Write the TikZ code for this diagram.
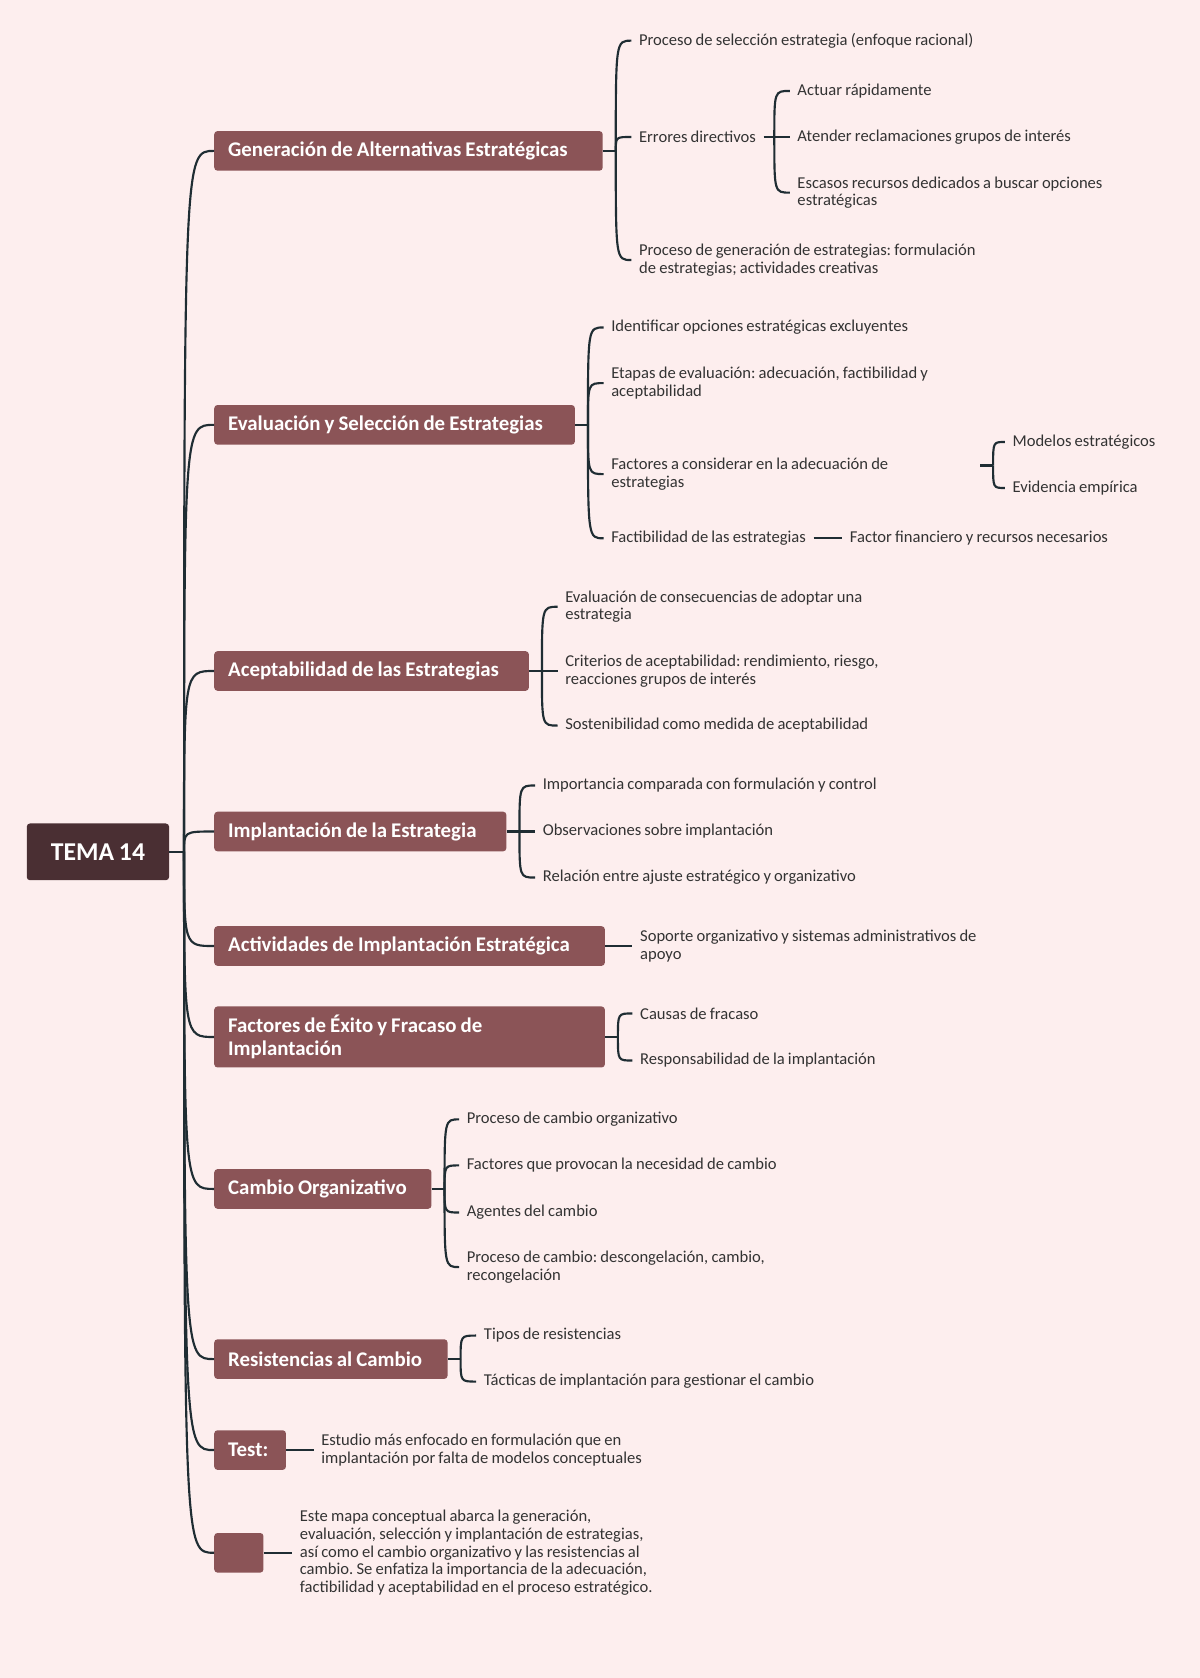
\documentclass[tikz,border=0pt]{standalone}
\usepackage{fontspec}
\setmainfont{Carlito}[WordSpace=0.85]
\frenchspacing
\definecolor{bg}{HTML}{FDEEEE}
\definecolor{rootc}{HTML}{4A2F33}
\definecolor{brc}{HTML}{8B5457}
\definecolor{lnc}{HTML}{1F2D33}
\definecolor{txc}{HTML}{333333}
\newcommand\bx[2]{\makebox[#1][l]{#2}}
\begin{document}
\begin{tikzpicture}[x=1pt,y=-1pt,
 conn/.style={draw=lnc,line width=2pt},
 rootn/.style={fill=rootc,text=white,font=\fontsize{24}{27}\selectfont\bfseries,rounded corners=3pt,minimum width=133pt,minimum height=53pt,inner sep=0},
 br/.style={fill=brc,text=white,font=\fontsize{19.5}{22}\selectfont\bfseries,rounded corners=3pt,anchor=west,align=left,inner xsep=13pt,inner ysep=0,minimum height=37pt},
 ch/.style={anchor=west,align=left,text=txc,font=\fontsize{15.5}{16.5}\selectfont,inner xsep=7pt,inner ysep=2pt}]
\fill[bg] (0,0) rectangle (1121,1568);
\useasboundingbox (0,0) rectangle (1121,1568);
\node[rootn] (root) at (91.5,796) {TEMA 14};
\coordinate (t) at (172,796);
\draw[conn] (root.east) -- (t);
% branches
\node[br] (b1) at (200,141) {\bx{337pt}{Generación de Alternativas Estratégicas}};
\node[br] (b2) at (200,397) {\bx{311pt}{Evaluación y Selección de Estrategias}};
\node[br] (b3) at (200,627) {\bx{268pt}{Aceptabilidad de las Estrategias}};
\node[br] (b4) at (200,777) {\bx{247pt}{Implantación de la Estrategia}};
\node[br] (b5) at (200,884) {\bx{339pt}{Actividades de Implantación Estratégica}};
\node[br,minimum height=57pt] (b6) at (200,969) {\bx{339pt}{Factores de Éxito y Fracaso de}\\\bx{339pt}{Implantación}};
\node[br] (b7) at (200,1111) {\bx{177pt}{Cambio Organizativo}};
\node[br] (b8) at (200,1270) {\bx{192pt}{Resistencias al Cambio}};
\node[br] (b9) at (200,1355) {\bx{41pt}{Test:}};
\node[br] (b10) at (200,1451) {\bx{20pt}{}};
\foreach \b in {b1,b2,b3,b4,b5,b6,b7,b8,b9,b10}
  \draw[conn] (t) .. controls (t |- \b.west) .. (\b.west);
% children of b1
\node[ch] (c11) at (590,38) {Proceso de selección estrategia (enfoque racional)};
\node[ch] (c12) at (590,128) {Errores directivos};
\node[ch] (c13) at (590,243) {Proceso de generación de estrategias: formulación\\de estrategias; actividades creativas};
\draw[conn] (b1.east) -- ++(12,0) coordinate (k1);
\foreach \c in {c11,c12,c13} \draw[conn] (k1) .. controls (k1 |- \c.west) .. (\c.west);
\node[ch] (c121) at (738,85) {Actuar rápidamente};
\node[ch] (c122) at (738,128) {Atender reclamaciones grupos de interés};
\node[ch] (c123) at (738,180) {Escasos recursos dedicados a buscar opciones\\estratégicas};
\draw[conn] (c12.east) -- ++(10,0) coordinate (k12);
\foreach \c in {c121,c122,c123} \draw[conn] (k12) .. controls (k12 |- \c.west) .. (\c.west);
% b2
\node[ch] (c21) at (564,306) {Identificar opciones estratégicas excluyentes};
\node[ch] (c22) at (564,358) {Etapas de evaluación: adecuación, factibilidad y\\aceptabilidad};
\node[ch] (c23) at (564,443) {Factores a considerar en la adecuación de\\estrategias};
\node[ch] (c24) at (564,503) {Factibilidad de las estrategias};
\draw[conn] (b2.east) -- ++(12,0) coordinate (k2);
\foreach \c in {c21,c22,c23,c24} \draw[conn] (k2) .. controls (k2 |- \c.west) .. (\c.west);
\coordinate (c23e) at (916,435);
\node[ch] (c231) at (939,413) {Modelos estratégicos};
\node[ch] (c232) at (939,456) {Evidencia empírica};
\draw[conn] (c23e) -- ++(12,0) coordinate (k23);
\foreach \c in {c231,c232} \draw[conn] (k23) .. controls (k23 |- \c.west) .. (\c.west);
\node[ch] (c241) at (787,503) {Factor financiero y recursos necesarios};
\draw[conn] (c24.east) -- (c241.west);
% b3
\node[ch] (c31) at (521,567) {Evaluación de consecuencias de adoptar una\\estrategia};
\node[ch] (c32) at (521,627) {Criterios de aceptabilidad: rendimiento, riesgo,\\reacciones grupos de interés};
\node[ch] (c33) at (521,678) {Sostenibilidad como medida de aceptabilidad};
\draw[conn] (b3.east) -- ++(12,0) coordinate (k3);
\foreach \c in {c31,c32,c33} \draw[conn] (k3) .. controls (k3 |- \c.west) .. (\c.west);
% b4
\node[ch] (c41) at (500,734) {Importancia comparada con formulación y control};
\node[ch] (c42) at (500,777) {Observaciones sobre implantación};
\node[ch] (c43) at (500,820) {Relación entre ajuste estratégico y organizativo};
\draw[conn] (b4.east) -- ++(12,0) coordinate (k4);
\foreach \c in {c41,c42,c43} \draw[conn] (k4) .. controls (k4 |- \c.west) .. (\c.west);
% b5
\node[ch] (c51) at (591,884) {Soporte organizativo y sistemas administrativos de\\apoyo};
\draw[conn] (b5.east) -- (c51.west);
% b6
\node[ch] (c61) at (591,947) {Causas de fracaso};
\node[ch] (c62) at (591,991) {Responsabilidad de la implantación};
\draw[conn] (b6.east) -- ++(12,0) coordinate (k6);
\foreach \c in {c61,c62} \draw[conn] (k6) .. controls (k6 |- \c.west) .. (\c.west);
% b7
\node[ch] (c71) at (429,1046) {Proceso de cambio organizativo};
\node[ch] (c72) at (429,1089) {Factores que provocan la necesidad de cambio};
\node[ch] (c73) at (429,1133) {Agentes del cambio};
\node[ch] (c74) at (429,1184) {Proceso de cambio: descongelación, cambio,\\recongelación};
\draw[conn] (b7.east) -- ++(12,0) coordinate (k7);
\foreach \c in {c71,c72,c73,c74} \draw[conn] (k7) .. controls (k7 |- \c.west) .. (\c.west);
% b8
\node[ch] (c81) at (445,1248) {Tipos de resistencias};
\node[ch] (c82) at (445,1291) {Tácticas de implantación para gestionar el cambio};
\draw[conn] (b8.east) -- ++(12,0) coordinate (k8);
\foreach \c in {c81,c82} \draw[conn] (k8) .. controls (k8 |- \c.west) .. (\c.west);
% b9
\node[ch] (c91) at (293,1355) {Estudio más enfocado en formulación que en\\implantación por falta de modelos conceptuales};
\draw[conn] (b9.east) -- (c91.west);
% b10
\node[ch] (c101) at (273,1451) {Este mapa conceptual abarca la generación,\\evaluación, selección y implantación de estrategias,\\así como el cambio organizativo y las resistencias al\\cambio. Se enfatiza la importancia de la adecuación,\\factibilidad y aceptabilidad en el proceso estratégico.};
\draw[conn] (b10.east) -- (c101.west);
\end{tikzpicture}
\end{document}
